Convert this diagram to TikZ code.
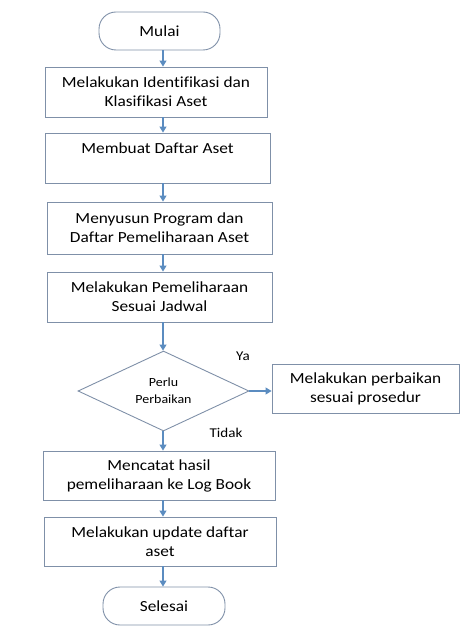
\documentclass[tikz,border=0pt]{standalone}
\usepackage{fontspec}
\setmainfont{Carlito}
\newfontfamily\boxfont[FakeStretch=1.12,Ligatures=NoCommon]{Carlito}
\usetikzlibrary{shapes.geometric,arrows.meta}
\definecolor{bord}{HTML}{7F90A8}
\definecolor{arr}{HTML}{5B8CC0}
\begin{document}
\begin{tikzpicture}[x=1bp,y=-1bp,
  box/.style={draw=bord,line width=0.9bp,rectangle,inner sep=0pt,align=center,font=\boxfont\fontsize{15.5}{19}\selectfont,text=black},
  term/.style={box,rounded corners=17bp},
  dec/.style={draw=bord,line width=0.9bp,diamond,aspect=2.14,inner sep=0pt,align=center,font=\boxfont\fontsize{12.5}{17}\selectfont,text=black},
  flow/.style={draw=arr,line width=1.1bp,-{Triangle[width=7bp,length=6bp]}},
  lbl/.style={font=\boxfont\fontsize{13.5}{15}\selectfont,text=black}]
\useasboundingbox (0,0) rectangle (474,632);
\coordinate (col) at (163,0);
\node[term,minimum width=121bp,minimum height=38bp] (m) at (159.5,31) {Mulai};
\node[box,minimum width=222bp,minimum height=50bp] (b1) at (156,92) {Melakukan Identifikasi dan\\Klasifikasi Aset};
\node[box,minimum width=225bp,minimum height=50bp] (b2) at (157.5,158) {Membuat Daftar Aset\\[-5bp]\strut};
\node[box,minimum width=225bp,minimum height=52bp] (b3) at (159.5,228) {Menyusun Program dan\\Daftar Pemeliharaan Aset};
\node[box,minimum width=225bp,minimum height=50bp] (b4) at (159.5,297) {Melakukan Pemeliharaan\\Sesuai Jadwal};
\node[dec,minimum width=171bp,minimum height=80bp] (d) at (163.5,391) {Perlu\\Perbaikan};
\node[box,minimum width=187bp,minimum height=49bp] (r) at (365.5,389) {Melakukan perbaikan\\sesuai prosedur};
\node[box,minimum width=232bp,minimum height=49bp] (b6) at (159,475.5) {Mencatat hasil\\pemeliharaan ke Log Book};
\node[box,minimum width=232bp,minimum height=49bp] (b7) at (160,541.5) {Melakukan update daftar\\aset};
\node[term,minimum width=122bp,minimum height=38bp] (s) at (164,606) {Selesai};
\node[lbl] (ya) at (243,356) {Ya};
\node[lbl] (td) at (226,433) {Tidak};
\draw[flow] (m.south -| col) -- (b1.north -| col);
\draw[flow] (b1.south -| col) -- (b2.north -| col);
\draw[flow] (b2.south -| col) -- (b3.north -| col);
\draw[flow] (b3.south -| col) -- (b4.north -| col);
\draw[flow] (b4.south -| col) -- (d.north -| col);
\draw[flow] (d.east) -- (d.east -| r.west);
\draw[flow] (d.south -| col) -- (b6.north -| col);
\draw[flow] (b6.south -| col) -- (b7.north -| col);
\draw[flow] (b7.south -| col) -- (s.north -| col);
\end{tikzpicture}
\end{document}
